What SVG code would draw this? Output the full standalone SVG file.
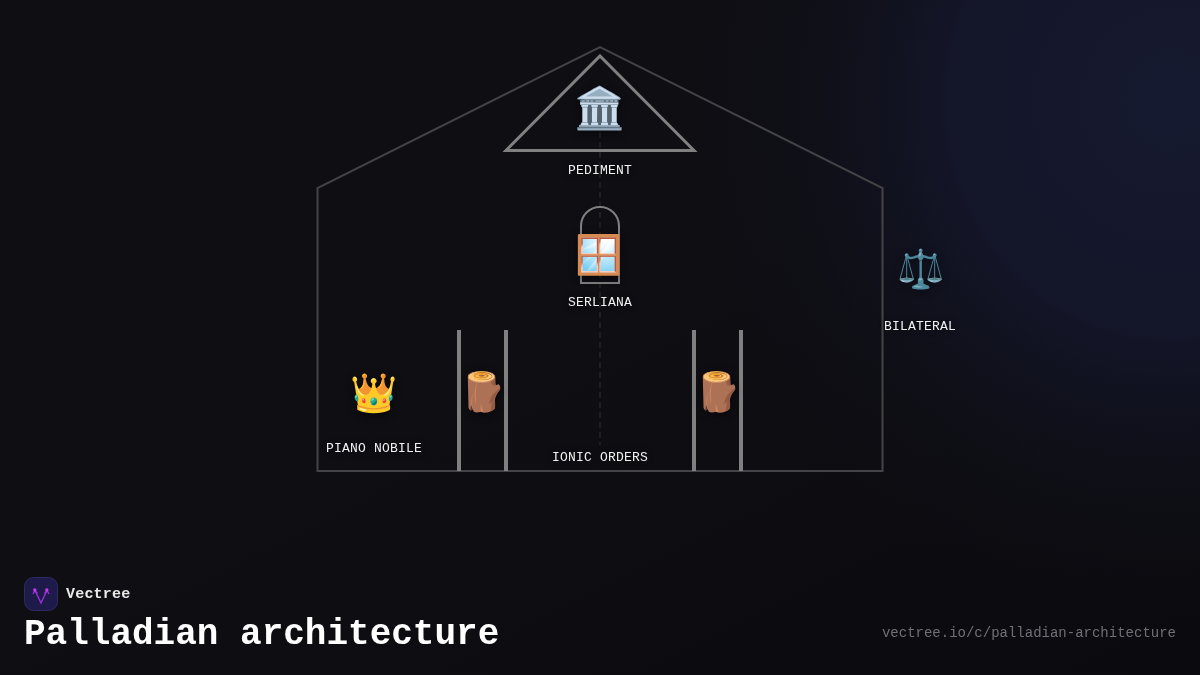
<svg xmlns="http://www.w3.org/2000/svg" width="1200" height="675" viewBox="0 0 1200 675">
<defs>
<radialGradient id="glow" gradientUnits="userSpaceOnUse" cx="0" cy="0" r="1" gradientTransform="translate(1170 100) scale(490 520)">
<stop offset="0" stop-color="#161a30" stop-opacity="1"/>
<stop offset="0.45" stop-color="#14162a" stop-opacity="0.95"/>
<stop offset="1" stop-color="#0e0e13" stop-opacity="0"/>
</radialGradient>
<linearGradient id="shade" x1="0.5" y1="0.45" x2="1" y2="1">
<stop offset="0" stop-color="#08080b" stop-opacity="0"/>
<stop offset="1" stop-color="#08080b" stop-opacity="0.5"/>
</linearGradient>
<style>
.lbl{font-family:"Liberation Mono",monospace;font-size:13px;letter-spacing:.2px;fill:#f2f2f2;text-anchor:middle;filter:drop-shadow(0 1px 3px rgba(0,0,0,.4))}
.emo{font-family:"Noto Color Emoji","Noto Sans",sans-serif;text-anchor:middle;font-size:38px;filter:drop-shadow(0 2px 4px rgba(0,0,0,.45))}
.wall{fill:none;stroke:#444448;stroke-width:2}
.part{fill:none;stroke:#808080}
.col{stroke:#808080;stroke-width:4}
.brandtxt{font-family:"Liberation Mono",monospace;opacity:.999}
</style>
</defs>
<rect id="bg" width="1200" height="675" fill="#0e0e13"/>
<rect width="1200" height="675" fill="url(#shade)"/>
<rect width="1200" height="675" fill="url(#glow)"/>
<g id="connectors">
<line x1="600" y1="132" x2="600" y2="445" stroke="#1d1d22" stroke-width="2" stroke-dasharray="6 4"/>
</g>
<g id="facade"><path class="wall" d="M317.500 471V188L600 47L882.500 188V471Z"/></g>
<g id="pediment">
<path class="part" stroke-width="3" d="M600 56L694 150.500H506Z"/>
<text class="emo" x="600" y="121.500" style="font-size:41px">🏛️</text>
<text class="lbl" x="600" y="174">PEDIMENT</text>
</g>
<g id="serliana">
<path class="part" stroke-width="2" d="M581 283V226A19 19 0 0 1 619 226V283Z"/>
<text class="emo" x="599.500" y="268">🪟</text>
<text class="lbl" x="600" y="306">SERLIANA</text>
</g>
<g id="bilateral">
<text class="emo" x="921" y="282">⚖️</text>
<text class="lbl" x="920" y="330">BILATERAL</text>
</g>
<g id="piano-nobile">
<text class="emo" x="374" y="405.500">👑</text>
<text class="lbl" x="374" y="452">PIANO NOBILE</text>
</g>
<g id="ionic-orders">
<line class="col" x1="459" y1="330" x2="459" y2="471"/>
<line class="col" x1="506" y1="330" x2="506" y2="471"/>
<line class="col" x1="694" y1="330" x2="694" y2="471"/>
<line class="col" x1="741" y1="330" x2="741" y2="471"/>
<text class="emo" x="483" y="405">🪵</text>
<text class="emo" x="718" y="405">🪵</text>
<text class="lbl" x="600" y="461">IONIC ORDERS</text>
</g>
<g id="brand">
<rect x="24.500" y="577.500" width="33" height="33" rx="9" fill="#1e1b4b" stroke="#2e2a63"/>
<path d="M33 594L35 590.500L41 603L47 590.500L49 594M35 590.500L37.500 593.500M47 590.500L44.500 593.500" fill="none" stroke="#9b30d9" stroke-width="1.300"/>
<circle cx="34.800" cy="590" r="1.700" fill="#c03be0"/>
<circle cx="46.800" cy="590" r="1.700" fill="#c03be0"/>
<text class="brandtxt" x="66" y="598" font-size="15" letter-spacing=".2" font-weight="700" fill="#e8e8e8">Vectree</text>
<text class="brandtxt" x="24" y="644" font-size="36" font-weight="700" fill="#ffffff">Palladian architecture</text>
<text class="brandtxt" x="1176" y="637" text-anchor="end" font-size="14" fill="#6f6f75">vectree.io/c/palladian-architecture</text>
</g>
</svg>
